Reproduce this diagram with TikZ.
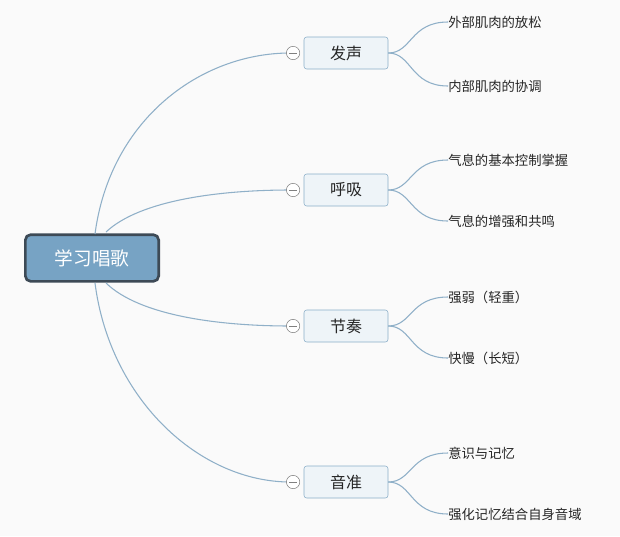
\documentclass[tikz,border=0pt]{standalone}
\usepackage{fontspec}
\setmainfont{Noto Sans CJK SC}
\begin{document}
\begin{tikzpicture}[x=0.75pt,y=-0.75pt,
  conn/.style={draw=lc,line width=0.8pt},
  branch/.style={draw=bc,fill=bf,rounded corners=2pt,minimum width=63pt,minimum height=24pt,font=\fontsize{12}{14}\selectfont,text=black!85},
  leaf/.style={anchor=west,font=\fontsize{10}{12}\selectfont,text=black!85,inner sep=0pt},
  fold/.style={circle,draw=gray,fill=white,minimum size=10pt,inner sep=0pt}]
\definecolor{lc}{HTML}{8FB0C8}
\definecolor{bc}{HTML}{8AAEC8}
\definecolor{bf}{HTML}{EEF4F8}
\definecolor{rf}{HTML}{77A3C4}
\definecolor{rb}{HTML}{3D4A56}
\fill[white!98!black] (0,0) rectangle (620,536);
\useasboundingbox (0,0) rectangle (620,536);
\node[draw=rb,line width=2pt,fill=rf,rounded corners=4pt,minimum width=100pt,minimum height=35pt,text=white,font=\fontsize{14}{16}\selectfont] (root) at (92,258) {学习唱歌};
\foreach \n/\t/\y/\la/\ya/\lb/\yb in {a/发声/53/外部肌肉的放松/22/内部肌肉的协调/86,
  b/呼吸/190/气息的基本控制掌握/160/气息的增强和共鸣/221,
  c/节奏/326/强弱（轻重）/297/快慢（长短）/358,
  d/音准/482/意识与记忆/453/强化记忆结合自身音域/514}{
  \node[branch] (\n) at (346,\y) {\t};
  \node[leaf] (\n1) at (448,\ya) {\la};
  \node[leaf] (\n2) at (448,\yb) {\lb};
  \coordinate (\n r) at (\n.east);
  \draw[conn] (\n r) .. controls (412,\y) and (410,\ya) .. (\n1.west);
  \draw[conn] (\n r) .. controls (412,\y) and (410,\yb) .. (\n2.west);
}
\coordinate (rt) at (95,234);
\coordinate (rt2) at (106,232);
\coordinate (rbt) at (106,283);
\coordinate (rb2) at (95,283);
\draw[conn] (rt) .. controls (110,120) and (200,53) .. ([xshift=-10]a.west);
\draw[conn] (rt2) .. controls (140,200) and (220,190) .. ([xshift=-10]b.west);
\draw[conn] (rbt) .. controls (140,316) and (220,326) .. ([xshift=-10]c.west);
\draw[conn] (rb2) .. controls (110,400) and (200,482) .. ([xshift=-10]d.west);
\foreach \n in {a,b,c,d}{
  \node[fold] (\n f) at ([xshift=-8]\n.west) {};
  \draw[gray] ([xshift=-3pt]\n f.center) -- ([xshift=3pt]\n f.center);
}
\end{tikzpicture}
\end{document}
